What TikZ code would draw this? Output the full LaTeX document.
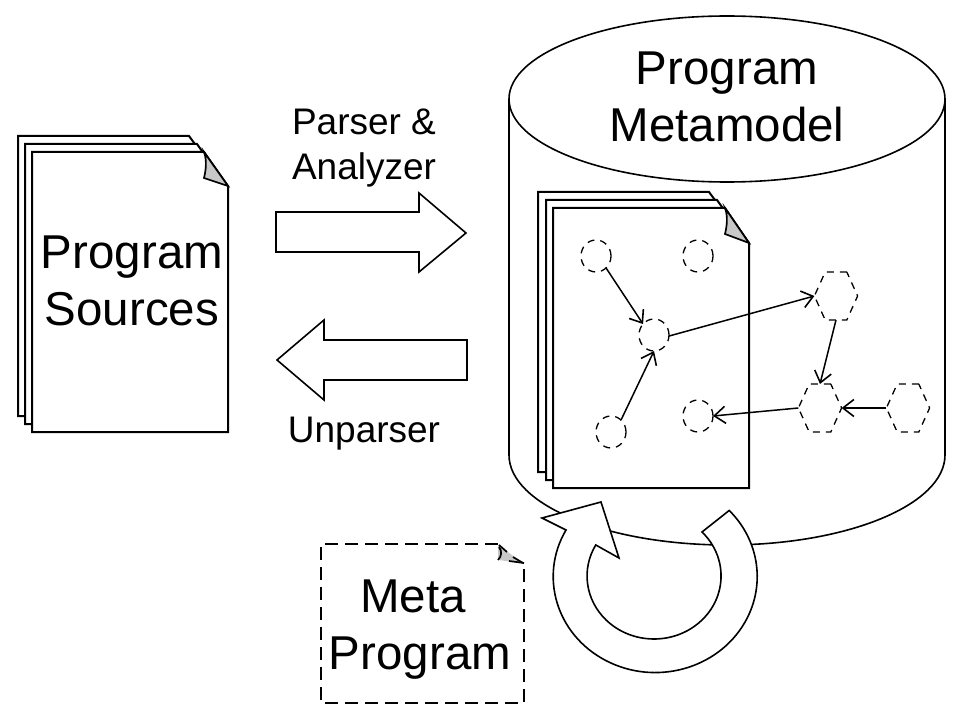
\documentclass[tikz,border=0pt]{standalone}
\usepackage{fontspec}
\setmainfont{Liberation Sans}
\usetikzlibrary{arrows.meta,shapes.geometric}
\definecolor{foldgray}{RGB}{200,200,200}
\tikzset{
  sheet/.style={draw=black,fill=white,line width=2pt,line join=miter},
  foldmark/.style={draw=black,fill=foldgray,line width=1.7pt,line join=miter},
  blockarrow/.style={draw=black,fill=white,line width=1.6pt,line join=miter},
  circnode/.style={ellipse,draw=black,dash pattern=on 7pt off 6pt,line width=1.3pt,minimum width=30pt,minimum height=32pt,inner sep=0pt,outer sep=0pt},
  hexnode/.style={regular polygon,regular polygon sides=6,draw=black,dash pattern=on 7pt off 6pt,line width=1.3pt,minimum size=55.4pt,inner sep=0pt,outer sep=0pt,transform shape,yscale=-1,xscale=0.78},
  link/.style={draw=black,line width=1.5pt,-{Straight Barb[length=11pt,width=17pt,line width=1.6pt]}},
  bigtext/.style={font=\fontsize{47.5}{57}\selectfont,align=center,inner sep=0pt},
  smalltext/.style={font=\fontsize{37}{45}\selectfont,align=center,inner sep=0pt}
}
\begin{document}
\begin{tikzpicture}[x=1pt,y=1pt,yscale=-1]
\useasboundingbox (0,0) rectangle (959,719);
\fill[white] (0,0) rectangle (959,719);
% Cylinder
\draw[draw=black,fill=white,line width=1.6pt] (509,99) -- (509,455) arc[start angle=180,end angle=0,x radius=218,y radius=90] -- (945,99);
\draw[draw=black,fill=white,line width=1.6pt] (727,99) ellipse[x radius=218,y radius=83];
\node[bigtext] (title) at (727,97) {Program\\Metamodel};
% Source documents
\draw[sheet] (18,416) -- (18,136) -- (189,136) -- (214,170) -- (214,416) -- cycle;
\draw[sheet] (25,424) -- (25,144) -- (197,144) -- (221,178) -- (221,424) -- cycle;
\draw[sheet] (32,432) -- (32,152) -- (204,152) -- (228,186) -- (228,432) -- cycle;
\draw[foldmark] (204,152) .. controls (207,160) and (206,170) .. (204,178) -- (228,186) -- cycle;
\node[bigtext] (sources) at (132,281) {Program\\Sources};
% Block arrows
\draw[blockarrow] (276,212) -- (419,212) -- (419,193) -- (466,233) -- (419,272) -- (419,252) -- (276,252) -- cycle;
\draw[blockarrow] (467,340) -- (324,340) -- (324,320) -- (277,360) -- (324,400) -- (324,380) -- (467,380) -- cycle;
\node[smalltext] (parser) at (364,148) {Parser \&\\Analyzer};
\node[smalltext] (unparser) at (364,434) {Unparser};
% Model documents
\draw[sheet] (538,472) -- (538,192) -- (709,192) -- (735,227) -- (735,472) -- cycle;
\draw[sheet] (546,480) -- (546,200) -- (717,200) -- (742,235) -- (742,480) -- cycle;
\draw[sheet] (553,488) -- (553,208) -- (725,208) -- (749,243) -- (749,488) -- cycle;
\draw[foldmark] (725,208) .. controls (728,216) and (727,226) .. (725,234) -- (749,243) -- cycle;
% Graph nodes
\node[circnode] (c1) at (596,256) {};
\node[circnode] (c2) at (698,256) {};
\node[circnode] (c3) at (654,335) {};
\node[circnode] (c4) at (611,432) {};
\node[circnode] (c5) at (698,416) {};
\node[hexnode] (h1) at (836,296) {};
\node[hexnode] (h2) at (820,408) {};
\node[hexnode] (h3) at (908,408) {};
\draw[link] (c1.-50) -- (c3.135);
\draw[link] (c3.-4) -- (h1.180);
\draw[link] (c4.50) -- (c3.-90);
\draw[link] (h1.-90) -- (h2.90);
\draw[link] (h2.180) -- (c5.0);
\draw[link] (h3.180) -- (h2.0);
% Circular arrow
\draw[blockarrow] (566,530) arc[start angle=209,end angle=-43.5,x radius=102,y radius=96]
  -- (702,532) arc[start angle=-44.3,end angle=209.5,x radius=67,y radius=63]
  -- (619,558) -- (601,502) -- (542,518) -- cycle;
% Meta program document
\draw[draw=black,fill=white,line width=2pt,dash pattern=on 13pt off 7pt] (498,544) -- (321,544) -- (321,703) -- (524,703) -- (524,563);
\draw[fill=foldgray,draw=none] (498,545) -- (498,560) -- (523,563) -- cycle;
\draw[line width=1.7pt] (499,547) .. controls (502,551) and (502,556) .. (498,560);
\draw[line width=1.7pt] (509,561) -- (524,563);
\draw[line width=1.7pt] (499,545) -- (507,552);
\draw[line width=1.7pt] (513,557) -- (523,563);
\node[bigtext] (meta) at (420,630) {Meta\hspace*{14pt}\\Program};
\end{tikzpicture}
\end{document}
